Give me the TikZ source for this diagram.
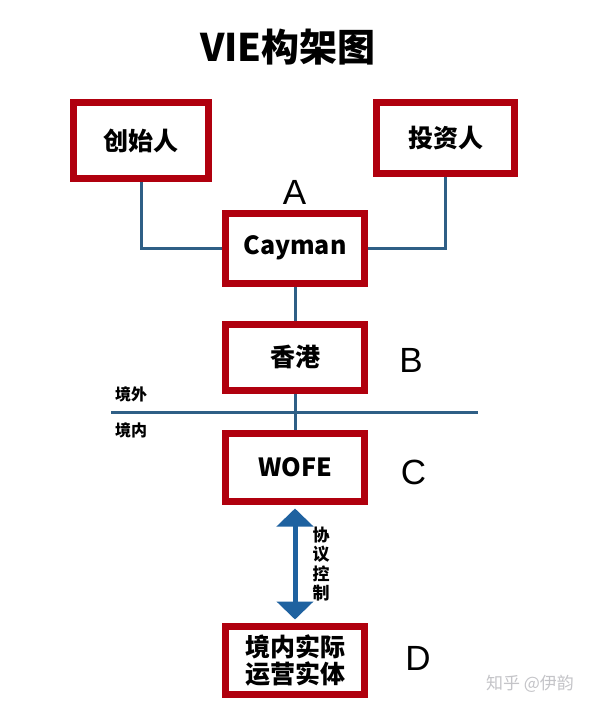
\documentclass[tikz,border=0pt]{standalone}
\usepackage{fontspec}
\usetikzlibrary{arrows.meta,backgrounds}
\newfontfamily\cjk{Noto Sans CJK SC}
\newfontfamily\lat{Liberation Sans}
\definecolor{boxred}{HTML}{B0000E}
\definecolor{lineblue}{HTML}{2F5F86}
\definecolor{arrowblue}{HTML}{1F62A0}
\definecolor{wmgray}{HTML}{C4C4C8}
\tikzset{
  redbox/.style={draw=boxred, line width=7pt, fill=white, minimum width=139pt, inner sep=0pt,
    font=\cjk\bfseries\fontsize{25}{30}\selectfont, align=center},
  conn/.style={draw=lineblue, line width=3pt},
  letter/.style={inner sep=0pt, font=\lat\fontsize{35}{35}\selectfont},
  small/.style={inner sep=0pt, font=\cjk\bfseries\fontsize{16}{18}\selectfont},
}
\begin{document}
\begin{tikzpicture}[x=1pt,y=-1pt]
\useasboundingbox (0,0) rectangle (593,709);
% title
\node[inner sep=0pt, font=\cjk\bfseries\fontsize{38}{40}\selectfont] (title) at (288,47) {VIE构架图};
% boxes
\node[redbox, minimum width=135pt, minimum height=76pt] (f) at (141,140.5) {创始人};
\node[redbox, minimum width=138pt, minimum height=71pt] (i) at (445.5,138) {投资人};
\node[redbox, minimum height=70pt] (cay) at (295,248) {Cayman};
\node[redbox, minimum height=66pt] (hk) at (295,357) {香港};
\node[redbox, minimum height=68pt] (wofe) at (295,467.5) {WOFE};
\node[redbox, minimum height=68pt] (op) at (295,660.5) {境内实际\\[-3pt]运营实体};
\coordinate (bl) at (111,412);
\coordinate (br) at (478,412);
\begin{scope}[on background layer]
\fill[white] (0,0) rectangle (593,709);
\draw[conn] (f.south) |- (cay.west);
\draw[conn] (i.south) |- (cay.east);
\draw[conn] (cay.south) -- (hk.north);
\draw[conn] (hk.south) -- (wofe.north);
\draw[conn] (bl) -- (br);
\end{scope}
% arrow
\draw[draw=arrowblue, line width=5pt, {Triangle[width=36pt,length=18pt]}-{Triangle[width=36pt,length=18pt]}]
  ([yshift=-3.5pt]wofe.south) -- ([yshift=3.5pt]op.north);
\node[inner sep=0pt, align=center, font=\cjk\bfseries\fontsize{17}{19.5}\selectfont] (ctl) at (321,564) {协\\议\\控\\制};
% letters
\node[letter] (la) at (294.5,192) {A};
\node[letter] (lb) at (411,360) {B};
\node[letter] (lc) at (413.5,472) {C};
\node[letter] (ld) at (418,658) {D};
% border labels
\node[small] (out) at (131,394) {境外};
\node[small] (in) at (131,430) {境内};
% watermark
\node[inner sep=0pt, text=wmgray, font=\cjk\fontsize{17}{18}\selectfont] (wm) at (530,684) {知乎 @伊韵};
\end{tikzpicture}
\end{document}
